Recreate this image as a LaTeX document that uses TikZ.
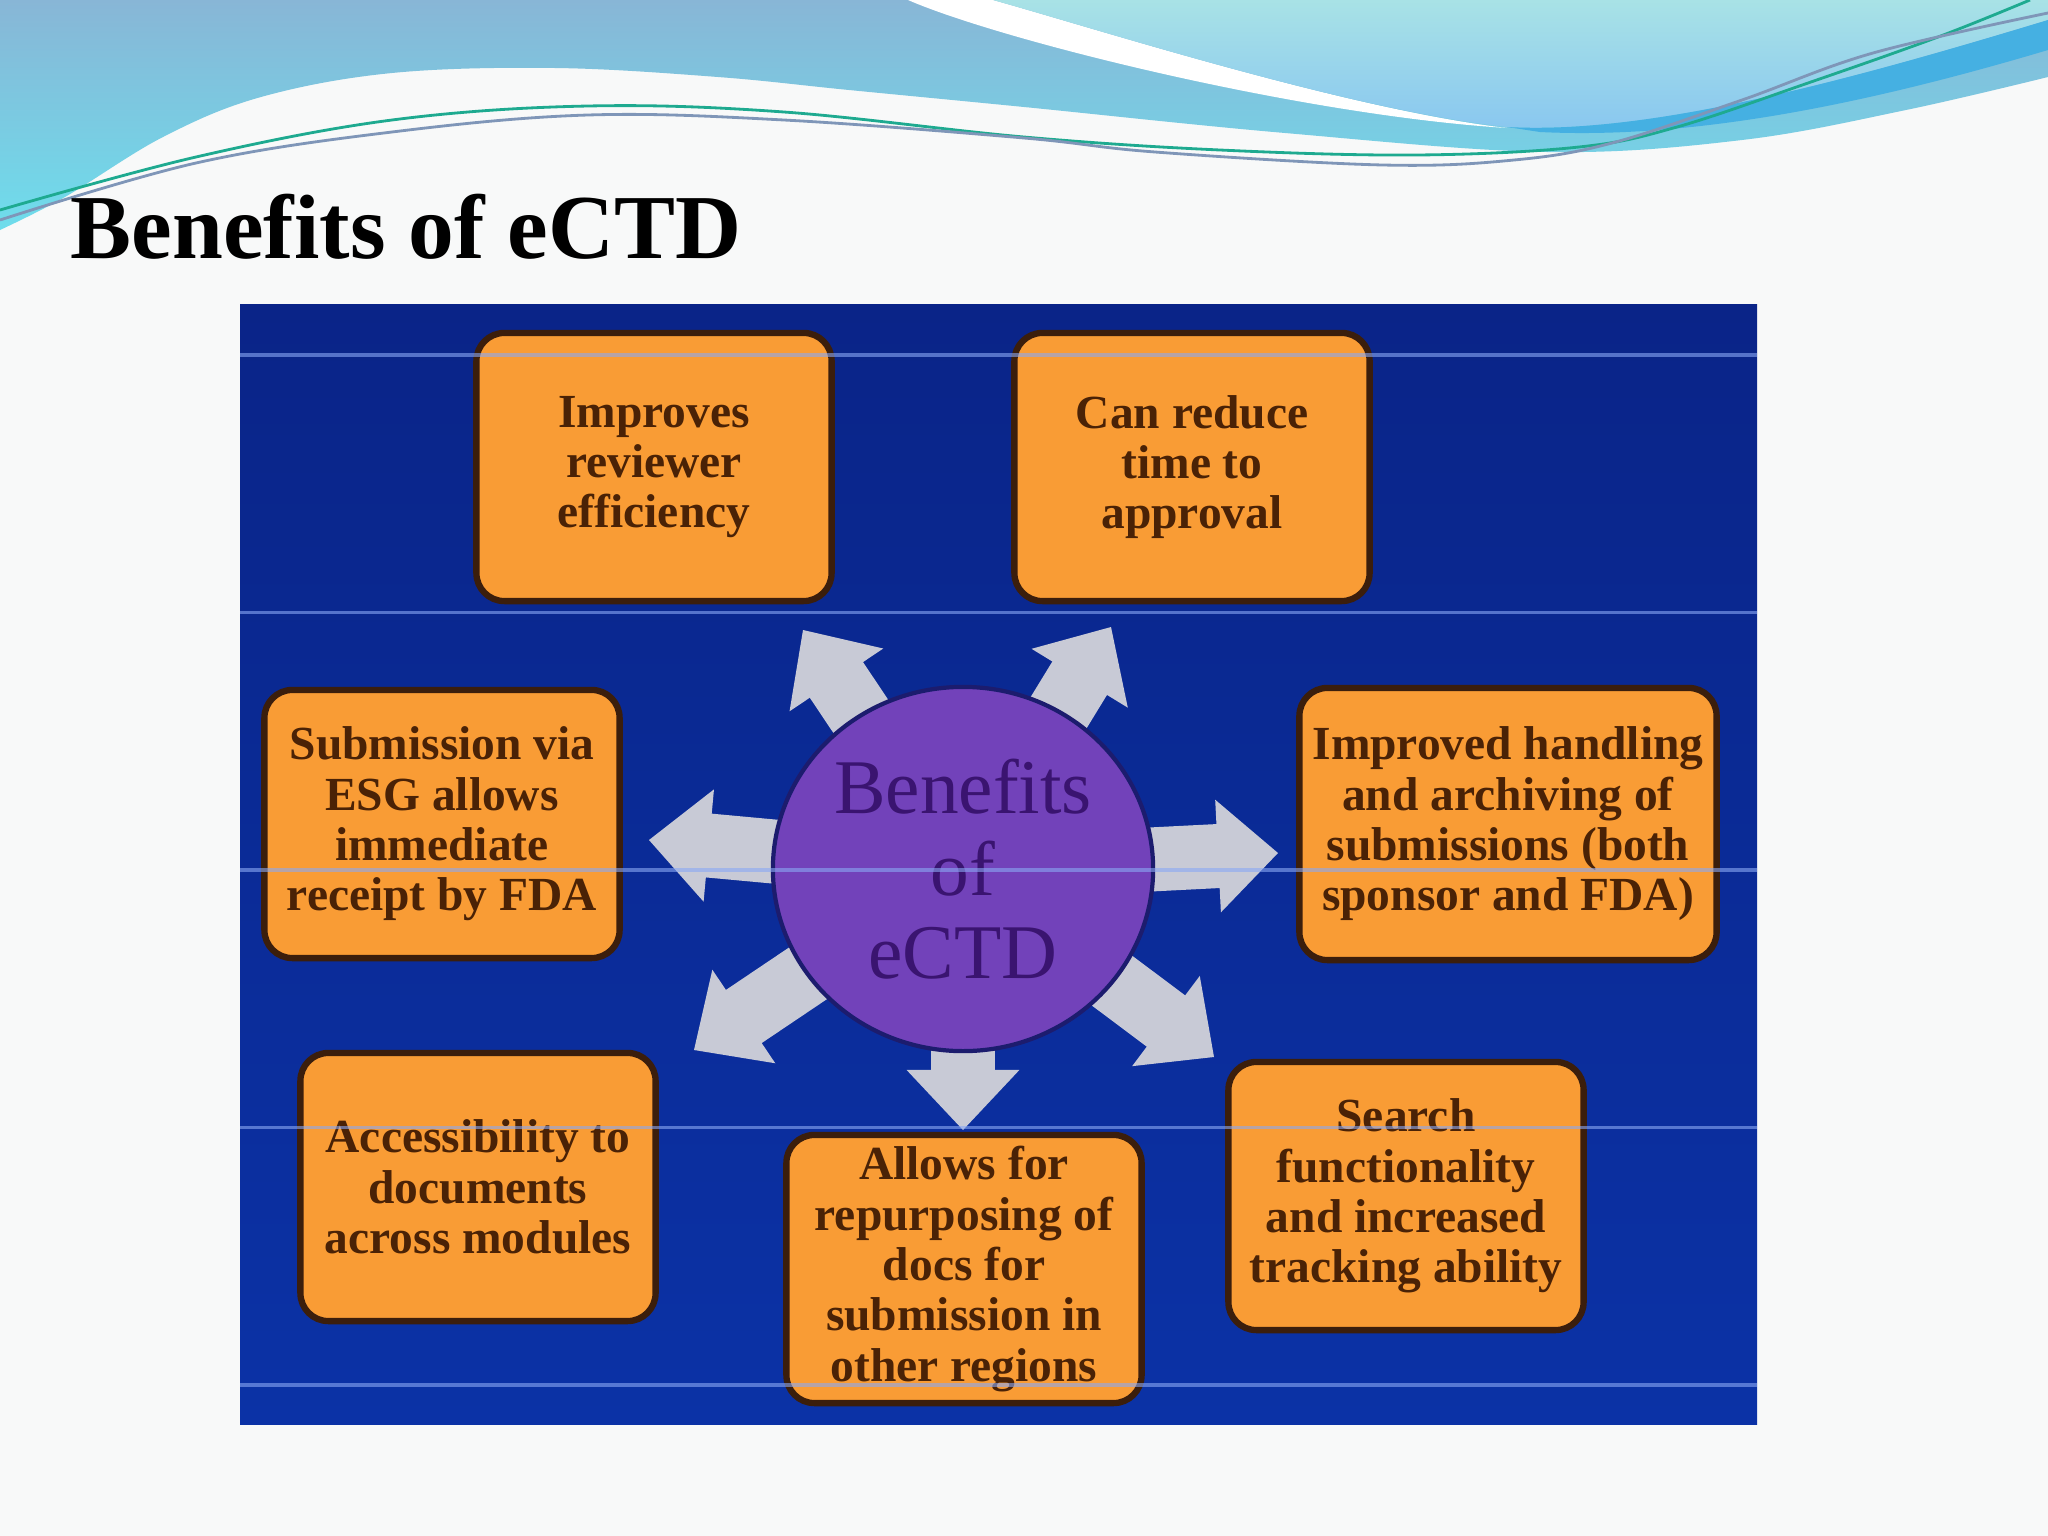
\documentclass[tikz,border=0pt]{standalone}
\usepackage{fontspec}
\setmainfont{Liberation Serif}
\usetikzlibrary{shapes.geometric,arrows.meta}
\definecolor{slidebg}{HTML}{F8F9F9}
\definecolor{wavetop}{HTML}{88B6D6}
\definecolor{wavelow}{HTML}{6EDDEC}
\definecolor{lighttop}{HTML}{A8E2E6}
\definecolor{lightlow}{HTML}{88C6F0}
\definecolor{stripeblue}{HTML}{45B0E2}
\definecolor{lineteal}{HTML}{1EAA90}
\definecolor{linegray}{HTML}{7F96B8}
\definecolor{paneltop}{HTML}{0A2488}
\definecolor{panellow}{HTML}{0B32A6}
\definecolor{gridblue}{HTML}{8AA8F4}
\definecolor{boxorange}{HTML}{F99C35}
\definecolor{boxedge}{HTML}{3B1E0C}
\definecolor{boxtext}{HTML}{4A2206}
\definecolor{hubpurple}{HTML}{7242BA}
\definecolor{hubedge}{HTML}{1C1C6E}
\definecolor{hubtext}{HTML}{3A1470}
\definecolor{spokegray}{HTML}{C8CAD6}
\newcommand\benefitfont{\fontsize{13.5}{14.3}\selectfont\bfseries}
\begin{document}
\begin{tikzpicture}[x=0.01cm, y=-0.01cm,
  benefit/.style={draw=boxedge, line width=1.8pt, fill=boxorange, rounded corners=0.28cm,
    align=center, minimum width=3.55cm, minimum height=2.68cm, inner sep=0pt,
    text=boxtext, font=\benefitfont},
  hub/.style={ellipse, draw=hubedge, line width=1.2pt, fill=hubpurple, minimum width=3.8cm,
    minimum height=3.64cm, inner sep=0pt, align=center, text=hubtext,
    font=\fontsize{22}{23.5}\selectfont},
  spoke/.style={draw=spokegray, line width=0.64cm,
    -{Triangle[width=1.12cm, length=0.6cm, line width=1pt]}},
  grid line/.style={draw=gridblue, draw opacity=0.6, line width=0.9pt}]
\useasboundingbox (0,0) rectangle (2048,1536);
\fill[slidebg] (0,0) rectangle (2048,1536);
\shade[top color=wavetop, bottom color=wavelow] (2048,0) -- (0,0) -- plot[smooth, tension=0.6] coordinates
  {(0,230) (65,197) (163,137) (261,97) (392,73) (555,68) (718,77) (849,90) (1024,107)
   (1285,133) (1547,152) (1742,140) (1906,110) (2048,77)} -- cycle;
\fill[white] (908,0) .. controls (1000,40) and (1300,115) .. (1507,128)
  .. controls (1350,110) and (1100,30) .. (993,0) -- cycle;
\shade[top color=lighttop, bottom color=lightlow] (993,0)
  .. controls (1100,30) and (1350,110) .. (1507,127)
  .. controls (1650,135) and (1850,80) .. (2048,20) -- (2048,0) -- cycle;
\fill[stripeblue] (1507,127) .. controls (1650,135) and (1850,80) .. (2048,20)
  -- (2048,50) .. controls (1880,100) and (1700,140) .. (1540,132) -- cycle;
\draw[lineteal, line width=0.8pt] plot[smooth, tension=0.6] coordinates
  {(0,210) (196,157) (392,120) (588,106) (784,112) (1024,137) (1220,150) (1416,155)
   (1579,147) (1677,127) (1808,83) (1938,37) (2030,0)};
\draw[linegray, line width=0.8pt] plot[smooth, tension=0.6] coordinates
  {(0,220) (196,163) (392,132) (588,115) (784,120) (1024,138) (1155,152) (1383,165)
   (1514,160) (1612,143) (1742,100) (1873,53) (2048,13)};
\node[anchor=base west, inner sep=0pt, font=\fontsize{26}{30}\selectfont\bfseries] (title) at (70,258) {Benefits of eCTD};
\shade[top color=paneltop, bottom color=panellow] (240,304) rectangle (1757,1424);
\node[benefit] (reviewer) at (654,467) {Improves\\reviewer\\efficiency};
\node[benefit] (approval) at (1192,467) {Can reduce\\time to\\approval};
\node[benefit] (esg) at (442,824) {Submission via\\ESG allows\\immediate\\receipt by FDA};
\node[benefit, minimum width=4.17cm, minimum height=2.72cm] (archiving) at (1508,824) {Improved handling\\and archiving of\\submissions (both\\sponsor and FDA)};
\node[benefit] (modules) at (478,1187) {Accessibility to\\documents\\across modules};
\node[benefit] (regions) at (964,1269) {Allows for\\repurposing of\\docs for\\submission in\\other regions};
\node[benefit] (tracking) at (1406,1196) {Search\\functionality\\and increased\\tracking ability};
\coordinate (c) at (963,869);
\coordinate (tipul) at (803,630);
\coordinate (tipur) at (1111,627);
\coordinate (tipl) at (649,840);
\coordinate (tipr) at (1278,853);
\coordinate (tipll) at (694,1050);
\coordinate (tipb) at (963,1130);
\coordinate (tiplr) at (1214,1057);
\foreach \t in {ul,ur,l,r,ll,b,lr}
  \draw[spoke] (c) -- (tip\t);
\node[hub] (hub) at (c) {Benefits\\of\\eCTD};
\foreach \gy in {355,612.5,870,1127.5,1385}
  \draw[grid line] (240,\gy) -- (1757,\gy);
\end{tikzpicture}
\end{document}
